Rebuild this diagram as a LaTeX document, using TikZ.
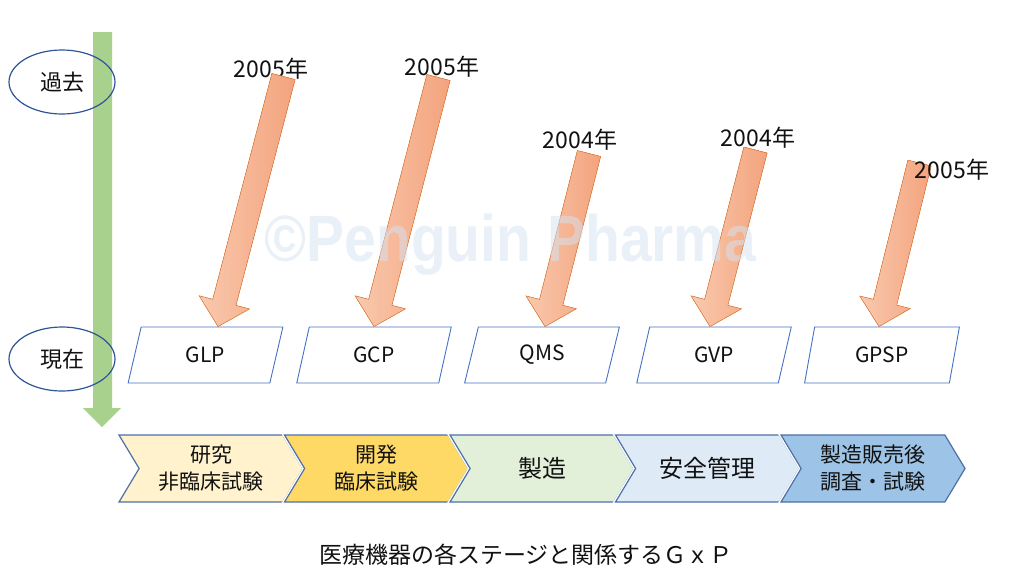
\documentclass[tikz,border=0pt]{standalone}
\usepackage{fontspec}
\setmainfont{Noto Sans CJK JP}
\newfontfamily\wmfont{Liberation Sans}
\usetikzlibrary{shapes.geometric,shapes.symbols,calc}

\definecolor{ovalblue}{HTML}{2F5597}
\definecolor{boxblue}{HTML}{4472C4}
\definecolor{chevblue}{HTML}{4F6FA8}
\definecolor{timegreen}{HTML}{A9D18E}
\definecolor{arrowlight}{HTML}{F9C9AE}
\definecolor{arrowdark}{HTML}{F3A37D}
\definecolor{arrowline}{HTML}{ED7D31}
\definecolor{stageA}{HTML}{FFF2CC}
\definecolor{stageB}{HTML}{FFD966}
\definecolor{stageC}{HTML}{E2F0D9}
\definecolor{stageD}{HTML}{DEEBF7}
\definecolor{stageE}{HTML}{9DC3E6}
\definecolor{wmblue}{HTML}{D5E3F3}
\definecolor{ink}{HTML}{111111}

\tikzset{
  jidai/.style={ellipse, draw=ovalblue, line width=1.2pt,
    minimum width=106pt, minimum height=64pt, inner sep=0pt,
    font=\fontsize{22}{26}\selectfont},
  gxpbox/.style={trapezium, trapezium left angle=76,
    trapezium right angle=104, trapezium stretches=true,
    draw=boxblue, line width=0.9pt, fill=white,
    minimum width=155pt, minimum height=56pt, inner sep=0pt,
    font=\fontsize{21}{25}\selectfont},
  nen/.style={font=\fontsize{23}{27}\selectfont},
  stage/.style={signal, signal to=east, signal from=west,
    signal pointer angle=118, draw=chevblue, line width=1.2pt,
    preaction={draw=white, line width=4pt},
    minimum width=184pt, minimum height=67pt, inner sep=0pt,
    align=center, font=\fontsize{21}{27}\selectfont},
}

% orange arrow: tail, tip
\newcommand{\kaitei}[2]{%
  \filldraw[left color=arrowlight, right color=arrowdark,
      draw=arrowline, line width=0.5pt]
    ($(#1)!12pt!-90:(#2)$)
    -- ($(#2)!25pt!(#1)!12pt!90:(#1)$)
    -- ($(#2)!25pt!(#1)!26pt!90:(#1)$)
    -- (#2)
    -- ($(#2)!25pt!(#1)!26pt!-90:(#1)$)
    -- ($(#2)!25pt!(#1)!12pt!-90:(#1)$)
    -- ($(#1)!12pt!90:(#2)$) -- cycle;}

\begin{document}
\begin{tikzpicture}[x=1pt, y=-1pt, text=ink]
\useasboundingbox[fill=white] (0,0) rectangle (1024,587);

% Fleche du temps
\fill[timegreen] (93,32) -- (93,408) -- (83,408) -- (102,427)
  -- (121,408) -- (112,408) -- (112,32) -- cycle;

% Passe / present
\node[jidai] (kako) at (62,82) {過去};
\node[jidai] (genzai) at (62,359) {現在};

% GxP
\node[gxpbox] (glp) at (205.5,355) {GLP};
\node[gxpbox] (gcp) at (374,355) {GCP};
\node[gxpbox] (qms) at (542,355) {QMS};
\node[gxpbox] (gvp) at (714,355) {GVP};
\node[gxpbox] (gpsp) at (882,355) {GPSP};

% Annees
\node[nen] (nen1) at (271,69) {2005年};
\node[nen] (nen2) at (442,67) {2005年};
\node[nen] (nen3) at (580,140) {2004年};
\node[nen] (nen4) at (758,138) {2004年};

% Fleches
\coordinate (t1) at (283.5,76.5);
\coordinate (t2) at (438.5,77.5);
\coordinate (t3) at (589,153.5);
\coordinate (t4) at (755.5,150);
\coordinate (t5) at (919.5,163);
\kaitei{t1}{$(glp.north)+(12.5,0)$}
\kaitei{t2}{gcp.north}
\kaitei{t3}{$(qms.north)+(3,0)$}
\kaitei{t4}{$(gvp.north)+(-4,0)$}
\kaitei{t5}{$(gpsp.north)+(-3,0)$}
\node[nen] (nen5) at (952,170) {2005年};

% Filigrane
\node[anchor=base, text=wmblue, text opacity=0.5] (wm) at (510.5,261)
  {\scalebox{1}[1.15]{\wmfont\bfseries\fontsize{57}{60}\selectfont ©Penguin Pharma}};

% Etapes
\node[stage, fill=stageA] (kenkyu) at (211,468.5) {研究\\非臨床試験};
\node[stage, fill=stageB] (kaihatsu) at (376.5,468.5) {開発\\臨床試験};
\node[stage, fill=stageC, font=\fontsize{24}{28}\selectfont] (seizo) at (542,468.5) {製造};
\node[stage, fill=stageD, font=\fontsize{24}{28}\selectfont] (anzen) at (707.5,468.5) {安全管理};
\node[stage, fill=stageE] (shihan) at (873,468.5) {製造販売後\\調査・試験};

% Legende
\node[font=\fontsize{23}{27}\selectfont] (caption) at (526,555)
  {医療機器の各ステージと関係するＧｘＰ};

\end{tikzpicture}
\end{document}
